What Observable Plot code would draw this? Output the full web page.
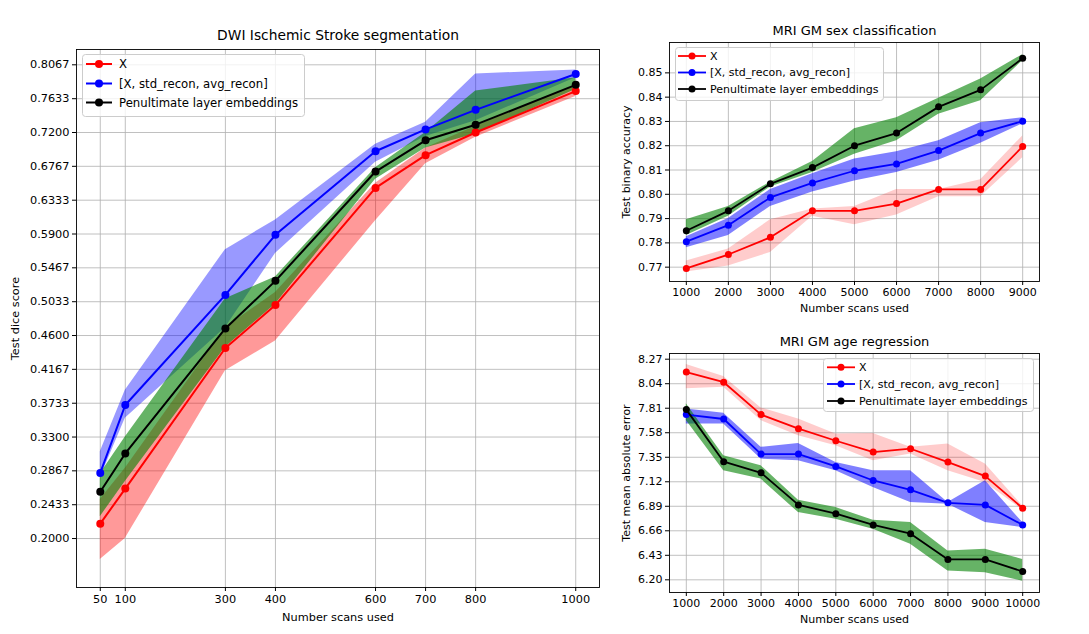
<!DOCTYPE html>
<html><head><meta charset="utf-8">
<script src="https://cdn.jsdelivr.net/npm/d3@7"></script>
<script src="https://cdn.jsdelivr.net/npm/@observablehq/plot@0.6"></script>
<style>
body{margin:0;background:#fff;}
#root{position:relative;width:1089px;height:634px;font-family:"DejaVu Sans",sans-serif;overflow:hidden;background:#fff;}
.panel{position:absolute;}
.legend{position:absolute;}
</style></head><body><div id="root"></div>
<script>
// ---------- shared ----------
const seriesNames = ["X", "[X, std_recon, avg_recon]", "Penultimate layer embeddings"];
const lineColors = ["#ff0000", "#0000ff", "#000000"];
const bandColors = ["#ff0000", "#0000ff", "#008000"];

// ---------- DWI Ischemic Stroke segmentation ----------
const dwiScans = [50, 100, 300, 400, 600, 700, 800, 1000];
const dwiXMean = [0.219, 0.264, 0.444, 0.499, 0.649, 0.691, 0.720, 0.773];
const dwiXLo   = [0.173, 0.200, 0.415, 0.453, 0.607, 0.680, 0.714, 0.766];
const dwiXHi   = [0.250, 0.290, 0.470, 0.515, 0.655, 0.700, 0.728, 0.780];
const dwiBMean = [0.284, 0.371, 0.512, 0.589, 0.696, 0.724, 0.749, 0.795];
const dwiBLo   = [0.278, 0.354, 0.470, 0.565, 0.682, 0.715, 0.735, 0.790];
const dwiBHi   = [0.311, 0.390, 0.570, 0.608, 0.705, 0.733, 0.795, 0.800];
const dwiPMean = [0.260, 0.309, 0.469, 0.530, 0.670, 0.710, 0.730, 0.781];
const dwiPLo   = [0.228, 0.273, 0.445, 0.500, 0.660, 0.700, 0.718, 0.775];
const dwiPHi   = [0.283, 0.330, 0.507, 0.535, 0.675, 0.720, 0.773, 0.790];
const dwiYTickLabels = ["0.2000","0.2433","0.2867","0.3300","0.3733","0.4167","0.4600","0.5033","0.5467","0.5900","0.6333","0.6767","0.7200","0.7633","0.8067"];

// ---------- MRI GM sex classification ----------
const sexScans = [1000, 2000, 3000, 4000, 5000, 6000, 7000, 8000, 9000];
const sexXMean = [0.7695, 0.7752, 0.7823, 0.7932, 0.7932, 0.7962, 0.8020, 0.8020, 0.8197];
const sexXLo   = [0.7680, 0.7705, 0.7760, 0.7910, 0.7875, 0.7915, 0.7990, 0.7990, 0.8150];
const sexXHi   = [0.7725, 0.7775, 0.7895, 0.7940, 0.7950, 0.8020, 0.8020, 0.8060, 0.8240];
const sexBMean = [0.7805, 0.7873, 0.7987, 0.8047, 0.8097, 0.8125, 0.8180, 0.8252, 0.8301];
const sexBLo   = [0.7780, 0.7830, 0.7950, 0.8010, 0.8055, 0.8090, 0.8140, 0.8210, 0.8290];
const sexBHi   = [0.7825, 0.7900, 0.8020, 0.8085, 0.8145, 0.8175, 0.8220, 0.8295, 0.8315];
const sexPMean = [0.7850, 0.7932, 0.8043, 0.8110, 0.8200, 0.8252, 0.8360, 0.8430, 0.8560];
const sexPLo   = [0.7830, 0.7910, 0.8030, 0.8090, 0.8165, 0.8220, 0.8330, 0.8385, 0.8550];
const sexPHi   = [0.7895, 0.7950, 0.8050, 0.8135, 0.8270, 0.8315, 0.8395, 0.8475, 0.8575];
const sexYTicks = [0.77, 0.78, 0.79, 0.80, 0.81, 0.82, 0.83, 0.84, 0.85];

// ---------- MRI GM age regression ----------
const ageScans = [1000, 2000, 3000, 4000, 5000, 6000, 7000, 8000, 9000, 10000];
const ageXMean = [8.149, 8.054, 7.750, 7.618, 7.505, 7.399, 7.430, 7.305, 7.173, 6.872];
const ageXLo   = [7.992, 8.007, 7.694, 7.552, 7.458, 7.317, 7.380, 7.223, 7.113, 6.853];
const ageXHi   = [8.221, 8.108, 7.813, 7.709, 7.568, 7.574, 7.443, 7.474, 7.286, 6.893];
const ageBMean = [7.750, 7.709, 7.380, 7.380, 7.264, 7.132, 7.044, 6.922, 6.903, 6.715];
const ageBLo   = [7.662, 7.662, 7.333, 7.317, 7.223, 7.066, 6.925, 6.909, 6.737, 6.690];
const ageBHi   = [7.803, 7.763, 7.443, 7.480, 7.301, 7.223, 7.223, 6.925, 7.129, 6.737];
const agePMean = [7.797, 7.308, 7.204, 6.903, 6.821, 6.715, 6.633, 6.391, 6.391, 6.278];
const agePLo   = [7.694, 7.223, 7.145, 6.831, 6.768, 6.674, 6.533, 6.282, 6.266, 6.187];
const agePHi   = [7.851, 7.364, 7.270, 6.947, 6.878, 6.759, 6.737, 6.470, 6.486, 6.391];
const ageYTickLabels = ["6.20","6.43","6.66","6.89","7.12","7.35","7.58","7.81","8.04","8.27"];

const root = document.getElementById("root");

function rowsOf(xs, mean, lo, hi) {
  return xs.map((x, i) => ({x, mean: mean[i], lo: lo[i], hi: hi[i]}));
}

function panel(o) {
  const marks = [
    Plot.gridX(o.xTicks, {stroke: "#b0b0b0", strokeOpacity: 1, strokeWidth: 0.8}),
    Plot.gridY(o.yTicks, {stroke: "#b0b0b0", strokeOpacity: 1, strokeWidth: 0.8})
  ];
  o.series.forEach((s, k) => {
    marks.push(Plot.areaY(s.rows, {x: "x", y1: "lo", y2: "hi", fill: bandColors[k], fillOpacity: o.bandOpacity[k]}));
  });
  o.series.forEach((s, k) => {
    marks.push(Plot.line(s.rows, {x: "x", y: "mean", stroke: lineColors[k], strokeWidth: o.sw}));
    marks.push(Plot.dot(s.rows, {x: "x", y: "mean", r: o.r, fill: lineColors[k], stroke: "none"}));
  });
  marks.push(
    Plot.frame({stroke: "#000", strokeWidth: 0.9}),
    Plot.axisX(o.xTicks, {tickSize: 4, tickPadding: 3, fontSize: o.fs, label: null, tickFormat: d => String(d)}),
    Plot.axisY(o.yTicks, {tickSize: 4, tickPadding: 3, fontSize: o.fs, label: null, tickFormat: o.yFmt}),
    Plot.text([o.title], {text: d => d, frameAnchor: "top", lineAnchor: "middle", textAnchor: "middle", dy: o.titleDy, fontSize: o.titleSize}),
    Plot.text([o.xLabel], {text: d => d, frameAnchor: "bottom", lineAnchor: "middle", textAnchor: "middle", dy: o.xLabelDy, fontSize: o.fs}),
    Plot.text([o.yLabel], {text: d => d, frameAnchor: "left", lineAnchor: "middle", textAnchor: "middle", rotate: -90, dx: o.yLabelDx, fontSize: o.fs})
  );
  const chart = Plot.plot({
    width: o.width, height: o.height,
    marginLeft: o.ml, marginRight: o.mr, marginTop: o.mt, marginBottom: o.mb,
    x: {type: "linear", domain: o.xDomain},
    y: {type: "linear", domain: o.yDomain},
    style: {fontFamily: "DejaVu Sans", fontSize: o.fs + "px", color: "#000", background: "transparent", overflow: "visible"},
    marks
  });
  const wrap = document.createElement("div");
  wrap.className = "panel";
  wrap.style.left = o.left + "px";
  wrap.style.top = o.top + "px";
  wrap.appendChild(chart);
  root.appendChild(wrap);
}

function legend(o) {
  const div = document.createElement("div");
  div.className = "legend";
  div.style.left = o.left + "px";
  div.style.top = o.top + "px";
  root.appendChild(div);
  const svg = d3.select(div).append("svg").attr("width", o.w + 1).attr("height", o.h + 1);
  svg.append("rect").attr("x", 0.5).attr("y", 0.5).attr("width", o.w).attr("height", o.h)
    .attr("rx", 3).attr("fill", "#fff").attr("fill-opacity", 0.8).attr("stroke", "#cccccc");
  seriesNames.forEach((name, k) => {
    const y = o.rowY[k];
    svg.append("line").attr("x1", o.hx0).attr("x2", o.hx1).attr("y1", y).attr("y2", y)
      .attr("stroke", lineColors[k]).attr("stroke-width", o.sw);
    svg.append("circle").attr("cx", (o.hx0 + o.hx1) / 2).attr("cy", y).attr("r", o.r).attr("fill", lineColors[k]);
    svg.append("text").attr("x", o.tx).attr("y", y).attr("dy", "0.35em")
      .attr("font-family", "DejaVu Sans").attr("font-size", o.fs).attr("fill", "#000").text(name);
  });
}

// Left panel
panel({
  left: 0, top: 0, width: 610, height: 634, ml: 76, mr: 11, mt: 49, mb: 47,
  xDomain: [2.5, 1047.5], yDomain: [0.1373, 0.8263],
  xTicks: dwiScans, yTicks: dwiYTickLabels.map(Number), yFmt: d => d.toFixed(4),
  series: [
    {rows: rowsOf(dwiScans, dwiXMean, dwiXLo, dwiXHi)},
    {rows: rowsOf(dwiScans, dwiBMean, dwiBLo, dwiBHi)},
    {rows: rowsOf(dwiScans, dwiPMean, dwiPLo, dwiPHi)}
  ],
  bandOpacity: [0.4, 0.4, 0.6], r: 4, sw: 2, fs: 11.3, titleSize: 13.8,
  title: "DWI Ischemic Stroke segmentation", xLabel: "Number scans used", yLabel: "Test dice score",
  titleDy: -14, xLabelDy: 30, yLabelDx: -61
});

// Top-right panel
panel({
  left: 610, top: 0, width: 479, height: 320, ml: 59, mr: 50, mt: 42, mb: 39,
  xDomain: [600, 9400], yDomain: [0.7641, 0.8625],
  xTicks: sexScans, yTicks: sexYTicks, yFmt: d => d.toFixed(2),
  series: [
    {rows: rowsOf(sexScans, sexXMean, sexXLo, sexXHi)},
    {rows: rowsOf(sexScans, sexBMean, sexBLo, sexBHi)},
    {rows: rowsOf(sexScans, sexPMean, sexPLo, sexPHi)}
  ],
  bandOpacity: [0.2, 0.5, 0.6], r: 3.5, sw: 1.8, fs: 11, titleSize: 13,
  title: "MRI GM sex classification", xLabel: "Number scans used", yLabel: "Test binary accuracy",
  titleDy: -12, xLabelDy: 27, yLabelDx: -43
});

// Bottom-right panel
panel({
  left: 610, top: 320, width: 479, height: 314, ml: 59, mr: 50, mt: 33, mb: 42,
  xDomain: [550, 10450], yDomain: [6.081, 8.3235],
  xTicks: ageScans, yTicks: ageYTickLabels.map(Number), yFmt: d => d.toFixed(2),
  series: [
    {rows: rowsOf(ageScans, ageXMean, ageXLo, ageXHi)},
    {rows: rowsOf(ageScans, ageBMean, ageBLo, ageBHi)},
    {rows: rowsOf(ageScans, agePMean, agePLo, agePHi)}
  ],
  bandOpacity: [0.2, 0.5, 0.6], r: 3.5, sw: 1.8, fs: 11, titleSize: 13,
  title: "MRI GM age regression", xLabel: "Number scans used", yLabel: "Test mean absolute error",
  titleDy: -12, xLabelDy: 27, yLabelDx: -43
});

legend({left: 82, top: 54, w: 222, h: 62, rowY: [10, 29.5, 48.5], hx0: 4, hx1: 30, tx: 37, fs: 11.7, r: 4, sw: 2});
legend({left: 675, top: 47, w: 208, h: 53, rowY: [9, 25.5, 42], hx0: 3, hx1: 31, tx: 35, fs: 11, r: 3.5, sw: 1.8});
legend({left: 823, top: 358, w: 210, h: 53, rowY: [9.3, 26, 43], hx0: 4, hx1: 32, tx: 36, fs: 11, r: 3.5, sw: 1.8});
</script></body></html>
